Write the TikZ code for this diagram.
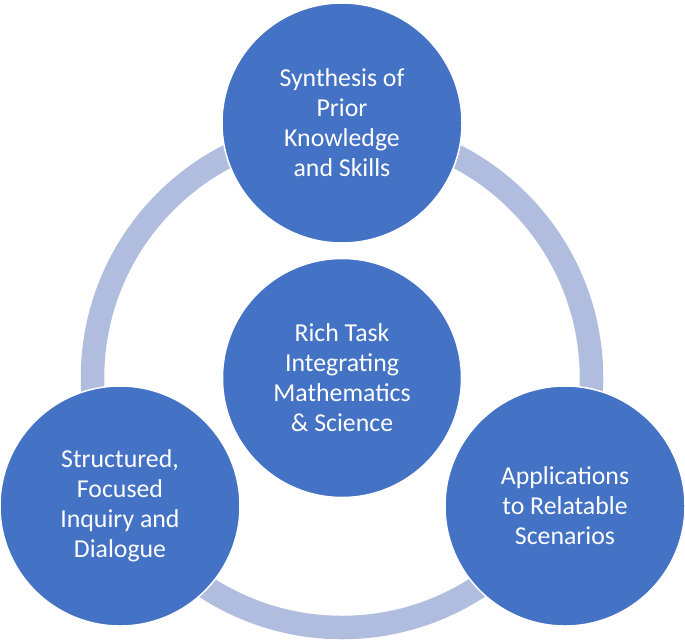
\documentclass[tikz,border=0pt]{standalone}
\usepackage{fontspec}
\setmainfont{Carlito}
\definecolor{cblue}{RGB}{68,114,196}
\definecolor{cring}{RGB}{176,189,223}
\begin{document}
\begin{tikzpicture}[x=1pt,y=-1pt,
  bubble/.style={circle, fill=cblue, draw=white, line width=1.5pt, minimum size=240pt, inner sep=0pt,
    text=white, align=center, font=\fontsize{25.8}{30}\selectfont},
  ringline/.style={draw=cring, line width=23.5pt}]
\useasboundingbox (0,0) rectangle (685,640);
\coordinate (mid) at (342,378);
\draw[ringline] (mid) circle[radius=249.5pt];
\node[bubble] (top) at (342,123) {Synthesis of\\Prior\\Knowledge\\and Skills};
\node[bubble, minimum size=239pt] (center) at (mid) {Rich Task\\Integrating\\Mathematics\\\& Science};
\node[bubble] (left) at (120,506) {Structured,\\Focused\\Inquiry and\\Dialogue};
\node[bubble] (right) at (565,506) {Applications\\to Relatable\\Scenarios};
\end{tikzpicture}
\end{document}
